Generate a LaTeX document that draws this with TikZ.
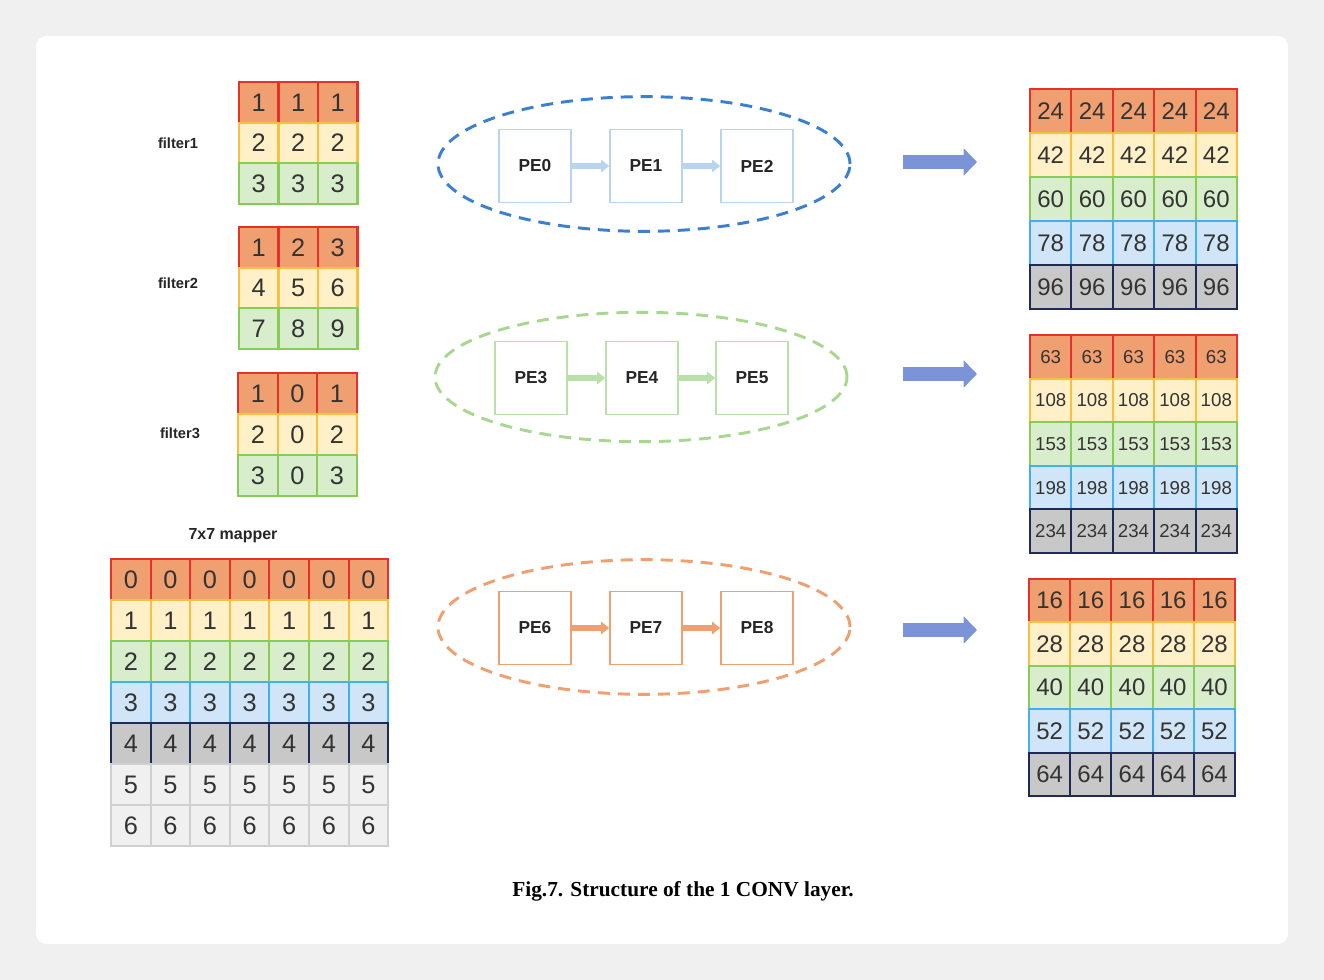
\documentclass[tikz,border=0pt]{standalone}
\usepackage{fontspec}
\setmainfont{Liberation Sans}
\newfontfamily\capfont{Liberation Serif}
\usetikzlibrary{arrows.meta,shapes.geometric}
\definecolor{rA}{HTML}{F0A070}\definecolor{rAd}{HTML}{E8302A}
\definecolor{rB}{HTML}{FFF0C8}\definecolor{rBd}{HTML}{F8C040}
\definecolor{rC}{HTML}{D8EDCC}\definecolor{rCd}{HTML}{88CC55}
\definecolor{rD}{HTML}{D0E6F8}\definecolor{rDd}{HTML}{40B0F0}
\definecolor{rE}{HTML}{C8C8C8}\definecolor{rEd}{HTML}{1F2A5A}
\definecolor{rF}{HTML}{F0F0F0}\definecolor{rFd}{HTML}{D0D0D0}
\definecolor{bigarr}{HTML}{7B94D8}
\definecolor{elB}{HTML}{3A7FD0}\definecolor{elG}{HTML}{A8D890}\definecolor{elO}{HTML}{F0A070}
\definecolor{peB}{HTML}{B8D4F0}\definecolor{peG}{HTML}{B8E0A8}\definecolor{peO}{HTML}{F0A070}
\tikzset{
 cell/.style={draw, line width=1.6pt, inner sep=0pt, text=black!80},
 r0/.style={cell, fill=rA, draw=rAd},
 r1/.style={cell, fill=rB, draw=rBd},
 r2/.style={cell, fill=rC, draw=rCd},
 r3/.style={cell, fill=rD, draw=rDd},
 r4/.style={cell, fill=rE, draw=rEd},
 r5/.style={cell, fill=rF, draw=rFd},
 lab/.style={font=\bfseries\fontsize{11}{11}\selectfont, text=black!85},
 pe/.style={draw, line width=1.2pt, fill=white, minimum width=54pt, minimum height=55pt, font=\bfseries\fontsize{13}{13}\selectfont, text=black!85},
 pearr/.style={line width=4pt, -{Triangle[length=6pt,width=9pt]}},
 ell/.style={ellipse, dashed, line width=2.2pt, dash pattern=on 9pt off 6pt, minimum width=309pt, minimum height=101pt},
 big/.style={line width=10pt, draw=bigarr, -{Triangle[length=10pt,width=20pt]}},
}
% grid: name, x0, y0, cw, rh, ncols, fontsize, rows list style/value
\newcommand{\mygrid}[8]{%
 \foreach \st/\v [count=\r from 0] in {#8}{%
  \foreach \c in {1,...,#6}{%
   \node[\st, minimum width=#4*0.75pt, minimum height=#5*0.75pt, font=\fontsize{#7}{#7}\selectfont]
    (#1-\r-\c) at ({#2+(\c-0.5)*#4},{#3+(\r+0.5)*#5}) {\v};
  }}}
\begin{document}
\begin{tikzpicture}[x=0.75pt,y=-0.75pt]
\useasboundingbox (0,0) rectangle (1324,980);
\fill[black!6] (0,0) rectangle (1324,980);
\fill[white, rounded corners=8pt] (36,36) rectangle (1288,944);
% filters
\mygrid{fa}{239}{82}{39.5}{40.7}{3}{19}{r0/1,r1/2,r2/3}
\mygrid{fb}{239}{227}{39.5}{40.7}{3}{19}{r0/X,r1/X,r2/X}
\foreach \c/\v in {1/1,2/2,3/3}{\node[r0,minimum width=29.6pt,minimum height=30.5pt,font=\fontsize{19}{19}\selectfont] at (fb-0-\c) {\v};}
\foreach \c/\v in {1/4,2/5,3/6}{\node[r1,minimum width=29.6pt,minimum height=30.5pt,font=\fontsize{19}{19}\selectfont] at (fb-1-\c) {\v};}
\foreach \c/\v in {1/7,2/8,3/9}{\node[r2,minimum width=29.6pt,minimum height=30.5pt,font=\fontsize{19}{19}\selectfont] at (fb-2-\c) {\v};}
\mygrid{fc}{238}{373}{39.6}{41}{3}{19}{r0/X,r1/X,r2/X}
\foreach \c/\v in {1/1,2/0,3/1}{\node[r0,minimum width=29.7pt,minimum height=30.75pt,font=\fontsize{19}{19}\selectfont] at (fc-0-\c) {\v};}
\foreach \c/\v in {1/2,2/0,3/2}{\node[r1,minimum width=29.7pt,minimum height=30.75pt,font=\fontsize{19}{19}\selectfont] at (fc-1-\c) {\v};}
\foreach \c/\v in {1/3,2/0,3/3}{\node[r2,minimum width=29.7pt,minimum height=30.75pt,font=\fontsize{19}{19}\selectfont] at (fc-2-\c) {\v};}
\node[lab] (l1) at (178,143) {filter1};
\node[lab] (l2) at (178,283) {filter2};
\node[lab] (l3) at (180,433) {filter3};
\node[lab, font=\bfseries\fontsize{12}{12}\selectfont] (l4) at (233,536) {7x7 mapper};
% mapper
\mygrid{m}{111}{559}{39.6}{41}{7}{19}{r0/0,r1/1,r2/2,r3/3,r4/4,r5/5,r5/6}
% ellipses and PEs
\node[ell, draw=elB] (e1) at (644,164) {};
\node[ell, draw=elG, minimum height=97pt] (e2) at (641,377) {};
\node[ell, draw=elO] (e3) at (644,627) {};
\node[pe, draw=peB] (p0) at (535,166) {PE0};
\node[pe, draw=peB] (p1) at (646,166) {PE1};
\node[pe, draw=peB] (p2) at (757,166) {PE2};
\node[pe, draw=peG] (p3) at (531,378) {PE3};
\node[pe, draw=peG] (p4) at (642,378) {PE4};
\node[pe, draw=peG] (p5) at (752,378) {PE5};
\node[pe, draw=peO] (p6) at (535,628) {PE6};
\node[pe, draw=peO] (p7) at (646,628) {PE7};
\node[pe, draw=peO] (p8) at (757,628) {PE8};
\draw[pearr, draw=peB] (p0) -- (p1); \draw[pearr, draw=peB] (p1) -- (p2);
\draw[pearr, draw=peG] (p3) -- (p4); \draw[pearr, draw=peG] (p4) -- (p5);
\draw[pearr, draw=peO] (p6) -- (p7); \draw[pearr, draw=peO] (p7) -- (p8);
% big arrows
\coordinate (a1s) at (903,162); \coordinate (a1e) at (977,162);
\coordinate (a2s) at (903,374); \coordinate (a2e) at (977,374);
\coordinate (a3s) at (903,630); \coordinate (a3e) at (977,630);
\draw[big] (a1s) -- (a1e); \draw[big] (a2s) -- (a2e); \draw[big] (a3s) -- (a3e);
% outputs
\mygrid{o1}{1030}{89}{41.4}{44}{5}{18}{r0/24,r1/42,r2/60,r3/78,r4/96}
\mygrid{o2}{1030}{335}{41.4}{43.6}{5}{14}{r0/63,r1/108,r2/153,r3/198,r4/234}
\mygrid{o3}{1029}{579}{41.2}{43.4}{5}{18}{r0/16,r1/28,r2/40,r3/52,r4/64}
\node[font=\capfont\bfseries\fontsize{16}{16}\selectfont] (cap) at (683,891) {Fig.7. Structure of the 1 CONV layer.};
\end{tikzpicture}
\end{document}
